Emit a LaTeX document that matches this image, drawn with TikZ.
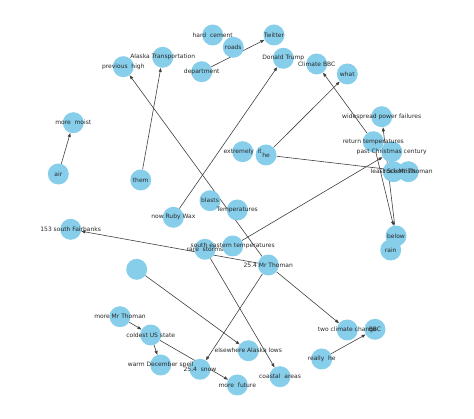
\documentclass[tikz,border=0pt]{standalone}
\usepackage{fontspec}
\setmainfont{DejaVu Sans}
\usetikzlibrary{arrows.meta, backgrounds}
\definecolor{sky}{RGB}{135,206,235}
\definecolor{ink}{RGB}{40,40,40}

\begin{document}
\begin{tikzpicture}[
  x=1pt, y=-1pt,
  N/.style={circle,fill=sky,minimum size=21pt,inner sep=0pt},
  L/.style={font=\fontsize{6}{7}\selectfont,inner sep=0pt,ink},
  ar/.style={-{Triangle[length=4pt,width=3pt]},line width=0.6pt,black!75},
  >=Stealth
]
\useasboundingbox (0,0) rectangle (474,419);

%% pixel grid: x to the right, y downwards

% top row
\node[N] (HARD)  at (212.7, 35.0) {};
\node[N] (ROADS) at (233.3, 47.3) {};
\node[N] (TWIT)  at (274.0, 35.0) {};
\node[N] (TRUMP) at (283.3, 58.3) {};
\node[N] (ALTR)  at (162.7, 57.3) {};
\node[N] (PREV)  at (123.3, 66.7) {};
\node[N] (DEPT)  at (201.7, 71.7) {};
\node[N] (CBBC)  at (316.7, 64.0) {};
\node[N] (WHAT)  at (347.3, 74.0) {};

% right cluster
\node[N] (WPF)   at (381.7,116.7) {};
\node[N] (RET)   at (373.3,141.7) {};
\node[N] (XMAS)  at (391.7,151.7) {};
\node[N] (ROCK)  at (408.3,171.7) {};
\node[N] (LEAST) at (393.3,171.7) {};
\node[N] (BELOW) at (396.0,236.0) {};
\node[N] (RAIN)  at (390.7,250.0) {};

% middle
\node[N] (MOIST) at ( 73.3,122.7) {};
\node[N] (AIR)   at ( 58.3,174.0) {};
\node[N] (THEM)  at (140.7,180.0) {};
\node[N] (EXTR)  at (242.7,151.7) {};
\node[N] (HE)    at (266.0,155.0) {};
\node[N] (BLAST) at (210.0,200.7) {};
\node[N] (TEMP)  at (237.3,210.0) {};
\node[N] (RUBY)  at (173.3,217.3) {};
\node[N] (FAIR)  at ( 70.7,229.3) {};
\node[N] (SET)   at (232.7,246.0) {};
\node[N] (RARE)  at (205.0,249.3) {};
\node[N] (MRT)   at (268.3,265.0) {};
\node[N] (BLANK) at (136.7,269.3) {};

% bottom
\node[N] (MORET) at (120.0,316.7) {};
\node[N] (COLD)  at (150.7,335.0) {};
\node[N] (WARM)  at (160.7,365.0) {};
\node[N] (SNOW)  at (200.0,369.3) {};
\node[N] (FUT)   at (237.3,385.0) {};
\node[N] (ELSE)  at (248.3,350.7) {};
\node[N] (COAST) at (280.0,376.7) {};
\node[N] (TWO)   at (347.3,330.0) {};
\node[N] (BBC)   at (375.0,329.3) {};
\node[N] (REAL)  at (321.7,359.0) {};

% labels
\node[L] (HARD-t)  at (HARD)  {hard\ \ cement};
\node[L] (ROADS-t) at (ROADS) {roads};
\node[L] (TWIT-t)  at (TWIT)  {Twitter};
\node[L] (TRUMP-t) at (TRUMP) {Donald Trump};
\node[L] (ALTR-t)  at (ALTR)  {Alaska Transportation};
\node[L] (PREV-t)  at (PREV)  {previous\ \ high};
\node[L] (DEPT-t)  at (DEPT)  {department};
\node[L] (CBBC-t)  at (CBBC)  {Climate BBC};
\node[L] (WHAT-t)  at (WHAT)  {what};
\node[L] (WPF-t)   at (WPF)   {widespread power failures};
\node[L] (RET-t)   at (RET)   {return temperatures};
\node[L] (XMAS-t)  at (XMAS)  {past Christmas century};
\node[L] (LEAST-t) at (LEAST) {least Scientists};
\node[L] (ROCK-t)  at (ROCK)  {rock Mr Thoman};
\node[L] (BELOW-t) at (BELOW) {below};
\node[L] (RAIN-t)  at (RAIN)  {rain};
\node[L] (MOIST-t) at (MOIST) {more\ \ moist};
\node[L] (AIR-t)   at (AIR)   {air};
\node[L] (THEM-t)  at (THEM)  {them};
\node[L] (EXTR-t)  at (EXTR)  {extremely\ \ it};
\node[L] (HE-t)    at (HE)    {he};
\node[L] (BLAST-t) at (BLAST) {blasts};
\node[L] (TEMP-t)  at (TEMP)  {Temperatures};
\node[L] (RUBY-t)  at (RUBY)  {now Ruby Wax};
\node[L] (FAIR-t)  at (FAIR)  {153 south Fairbanks};
\node[L] (RARE-t)  at (RARE)  {rare\ \ storms};
\node[L] (SET-t)   at (SET)   {south eastern temperatures};
\node[L] (MRT-t)   at (MRT)   {25.4 Mr Thoman};
\node[L] (MORET-t) at (MORET) {more Mr Thoman};
\node[L] (COLD-t)  at (COLD)  {coldest US state};
\node[L] (WARM-t)  at (WARM)  {warm December spell};
\node[L] (SNOW-t)  at (SNOW)  {25.4\ \ snow};
\node[L] (FUT-t)   at (FUT)   {more\ \ future};
\node[L] (ELSE-t)  at (ELSE)  {elsewhere Alaska lows};
\node[L] (COAST-t) at (COAST) {coastal\ \ areas};
\node[L] (TWO-t)   at (TWO)   {two climate change};
\node[L] (BBC-t)   at (BBC)   {BBC};
\node[L] (REAL-t)  at (REAL)  {really\ \ he};

% edges (behind the nodes)
\begin{scope}[on background layer]
\draw[ar] (AIR)   -- (MOIST);
\draw[ar] (THEM)  -- (ALTR);
\draw[ar] (MRT)   -- (PREV);
\draw[ar] (DEPT)  -- (TWIT);
\draw[ar] (RUBY)  -- (TRUMP);
\draw[ar] (HE)    -- (WHAT);
\draw[ar] (HE)    -- (ROCK);
\draw[ar] (RET)   -- (CBBC);
\draw[ar] (RET)   -- (BELOW);
\draw[ar] (BELOW) -- (WPF);
\draw[ar] (SET)   -- (XMAS);
\draw[ar] (MRT)   -- (FAIR);
\draw[ar] (MRT)   -- (TWO);
\draw[ar] (MRT)   -- (SNOW);
\draw[ar] (RARE)  -- (COAST);
\draw[ar] (BLANK) -- (ELSE);
\draw[ar] (MORET) -- (COLD);
\draw[ar] (COLD)  -- (WARM);
\draw[ar] (COLD)  -- (FUT);
\draw[ar] (REAL)  -- (BBC);
\end{scope}

\end{tikzpicture}
\end{document}
